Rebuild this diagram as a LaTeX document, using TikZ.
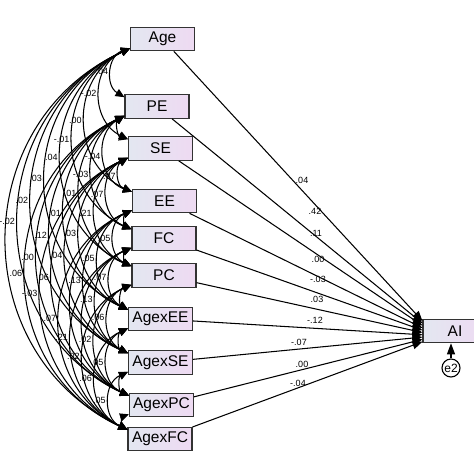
\documentclass[tikz,border=0pt]{standalone}
\usepackage{fontspec}
\setmainfont{Liberation Sans}
\usetikzlibrary{arrows.meta,calc}
\definecolor{boxL}{HTML}{E3E7F1}
\definecolor{boxR}{HTML}{EEDAF2}
\begin{document}
\begin{tikzpicture}[x=1pt,y=-1pt,
 var/.style={draw=black!80,line width=1.1pt,left color=boxL,right color=boxR,minimum width=64pt,minimum height=23.5pt,inner sep=0pt,font=\fontsize{15.5}{17}\selectfont},
 cov/.style={line width=1.05pt,{Triangle[length=9pt,width=8pt]}-{Triangle[length=9pt,width=8pt]},bend right=65,looseness=1.2},
 cl/.style={pos=0.5,left=2.5pt,inner sep=0.5pt,font=\fontsize{9}{10}\selectfont},
 reg/.style={line width=1.05pt,-{Triangle[length=10pt,width=8pt]}},
 rl/.style={font=\fontsize{9}{10}\selectfont,inner sep=0.5pt}]
\useasboundingbox (0,0) rectangle (474,474);
\clip (0,0) rectangle (474,474);
% variables
\node[var] (Age) at (162.5,39) {Age};
\node[var] (PE) at (157,106.5) {PE};
\node[var] (SE) at (160.5,148.5) {SE};
\node[var] (EE) at (164.5,201) {EE};
\node[var] (FC) at (164,238.5) {FC};
\node[var] (PC) at (164,275.5) {PC};
\node[var] (AgexEE) at (160.5,319) {AgexEE};
\node[var] (AgexSE) at (160.5,362.5) {AgexSE};
\node[var] (AgexPC) at (161.5,405) {AgexPC};
\node[var] (AgexFC) at (160,439) {AgexFC};
\node[var] (AI) at (455,331) {AI};
\node[circle,draw,fill=white,line width=1.1pt,minimum size=18pt,inner sep=0pt,font=\fontsize{12}{13}\selectfont] (e2) at (451,368) {e2};
% covariances
\foreach \a/\b/\v in {Age/PE/.04, Age/SE/-.02, Age/EE/.00, Age/FC/-.01, Age/PC/.04, Age/AgexEE/.03, Age/AgexSE/.02, Age/AgexPC/-.02,
 PE/EE/-.04, PE/FC/-.03, PE/PC/.01, PE/AgexEE/.01, PE/AgexSE/.12, PE/AgexPC/.00, PE/AgexFC/.06,
 SE/EE/.07, SE/FC/.07, SE/PC/.21, SE/AgexEE/.03, SE/AgexSE/.04, SE/AgexPC/.06, SE/AgexFC/-.03,
 EE/PC/.05, EE/AgexEE/.05, EE/AgexSE/.13, EE/AgexFC/.07,
 FC/AgexEE/.07, FC/AgexSE/.13, FC/AgexFC/.21,
 PC/AgexSE/.06, PC/AgexPC/.02, PC/AgexFC/.02,
 AgexEE/AgexPC/.05, AgexEE/AgexFC/.06,
 AgexSE/AgexFC/.05}
 \draw[cov] ([yshift=3pt]\a.south west) to node[cl]{\v} ([yshift=-3pt]\b.north west);
\foreach \a/\b in {Age/AgexFC, PE/SE, EE/FC, EE/AgexPC, FC/PC, FC/AgexPC, PC/AgexEE, AgexEE/AgexSE, AgexSE/AgexPC, AgexPC/AgexFC}
 \draw[cov] ([yshift=3pt]\a.south west) to ([yshift=-3pt]\b.north west);
% regression paths
\foreach \n/\k [count=\i from 0] in {Age/0, PE/1, SE/2, EE/3, FC/4, PC/5, AgexEE/6, AgexSE/7, AgexPC/8, AgexFC/9}{
 \coordinate (t\i) at ([yshift={10pt-2.3pt*\k}]AI.west);
 \draw[reg] (\n) -- (t\i);
}
\node[rl] (l0) at (302,180) {.04};
\node[rl] (l1) at (315,211) {.42};
\node[rl] (l2) at (316,233) {.11};
\node[rl] (l3) at (318,259) {.00};
\node[rl] (l4) at (318,279) {-.03};
\node[rl] (l5) at (317,299) {.03};
\node[rl] (l6) at (315,320) {-.12};
\node[rl] (l7) at (299,342) {-.07};
\node[rl] (l8) at (302,364) {.00};
\node[rl] (l9) at (298,383) {-.04};
\draw[line width=1.05pt,-{Triangle[length=11pt,width=8pt]}] (e2) -- (e2 |- AI.south);
\end{tikzpicture}
\end{document}
